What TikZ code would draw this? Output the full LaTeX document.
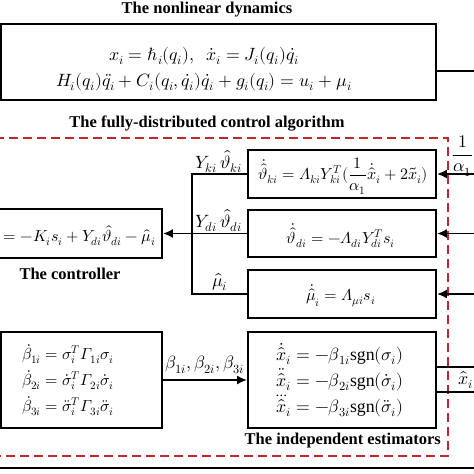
\documentclass[tikz,border=0pt]{standalone}
\usepackage{amsmath}
\usepackage{fontspec}
\usepackage[math-style=ISO]{unicode-math}
\setmainfont{Liberation Serif}
\setmathfont{Latin Modern Math}
\usetikzlibrary{arrows.meta}
\definecolor{dashred}{RGB}{192,40,45}
\tikzset{
  blk/.style={draw, line width=1.9pt, inner sep=0pt},
  ttl/.style={font=\fontsize{16.5}{20}\selectfont\bfseries, inner sep=0pt},
  eq/.style={font=\fontsize{16}{20}\selectfont, inner sep=0pt},
  eqb/.style={font=\fontsize{17.8}{22}\selectfont, inner sep=0pt},
  conn/.style={line width=1.7pt},
  arr/.style={conn, -{Latex[length=10pt,width=9pt]}},
  reddash/.style={draw=dashred, line width=1.4pt, dash pattern=on 9pt off 5pt}
}
\begin{document}
\begin{tikzpicture}[x=1pt,y=-1pt]
\useasboundingbox (0,0) rectangle (474,474);
% titles
\node[ttl] (t1) at (207,10) {The nonlinear dynamics};
\node[ttl] (t2) at (207,124) {The fully-distributed control algorithm};
% top box
\node[blk, minimum width=435pt, minimum height=76pt] (dyn) at (218.5,62) {};
\node[eqb, align=center] (dyntxt) at (204,69) {$x_i = \hbar_i(q_i),\ \ \dot{x}_i = J_i(q_i)\dot{q}_i$\\[4pt]
$H_i(q_i)\ddot{q}_i + C_i(q_i,\dot{q}_i)\dot{q}_i + g_i(q_i) = u_i + \mu_i$};
\coordinate (dynout) at (480,71);
\draw[conn] (dynout) -- (dynout -| dyn.east);
% red dashed frame
\draw[reddash] (-5,138) -- (448,138) -- (448,456) -- (-5,456);
% adaptation boxes
\node[blk, minimum width=188pt, minimum height=48pt] (K) at (342,174) {};
\node[eq] (Ktxt) at (343,176) {$\dot{\hat{\vartheta}}_{ki} = \Lambda_{ki}Y_{ki}^{T}(\dfrac{1}{\alpha_1}\dot{\hat{x}}_i + 2\tilde{x}_i)$};
\node[blk, minimum width=188pt, minimum height=47pt] (D) at (342,233.5) {};
\node[eq] (Dtxt) at (341,236) {$\dot{\hat{\vartheta}}_{di} = -\Lambda_{di}Y_{di}^{T}s_i$};
\node[blk, minimum width=188pt, minimum height=48pt] (M) at (342,294) {};
\node[eq] (Mtxt) at (341,296) {$\dot{\hat{\mu}}_i = \Lambda_{\mu i}s_i$};
% controller
\node[blk, minimum width=192pt, minimum height=49pt] (C) at (66,233.5) {};
\node[eq, anchor=east] (Ctxt) at (156,236) {$= -K_i s_i + Y_{di}\hat{\vartheta}_{di} - \hat{\mu}_i$};
\node[ttl] (t3) at (70,274) {The controller};
% estimators
\node[blk, minimum width=161pt, minimum height=96pt] (B) at (81.5,380) {};
\node[eq] (Btxt) at (68,381) {$\begin{aligned}\dot{\beta}_{1i} &= \sigma_i^{T}\Gamma_{1i}\sigma_i\\[1pt]
\dot{\beta}_{2i} &= \dot{\sigma}_i^{T}\Gamma_{2i}\dot{\sigma}_i\\[1pt]
\dot{\beta}_{3i} &= \ddot{\sigma}_i^{T}\Gamma_{3i}\ddot{\sigma}_i\end{aligned}$};
\node[blk, minimum width=188pt, minimum height=96pt] (E) at (342,380) {};
\node[eqb] (Etxt) at (340,381) {$\begin{aligned}\dot{\hat{x}}_i &= -\beta_{1i}\mathrm{sgn}(\sigma_i)\\[-2pt]
\ddot{\hat{x}}_i &= -\beta_{2i}\mathrm{sgn}(\dot{\sigma}_i)\\[-2pt]
\dddot{\hat{x}}_i &= -\beta_{3i}\mathrm{sgn}(\ddot{\sigma}_i)\end{aligned}$};
\node[ttl, anchor=east] (t4) at (441,441) {The independent estimators};
% junction
\coordinate (jt) at (192,174);
\coordinate (jm) at (192,233.5);
\coordinate (jb) at (192,294);
\draw[conn] (K.west) -- (jt) -- (jb) -- (M.west);
\draw[conn] (D.west) -- (jm);
\draw[arr] (jm) -- (C.east);
\node[eqb] (lk) at (219,162) {$Y_{ki}\,\hat{\vartheta}_{ki}$};
\node[eqb] (ld) at (219,221) {$Y_{di}\,\hat{\vartheta}_{di}$};
\node[eqb] (lm) at (220,282) {$\hat{\mu}_i$};
% beta arrow
\draw[arr] (B.east) -- (E.west);
\node[eqb] (lb) at (205,365) {$\beta_{1i},\beta_{2i},\beta_{3i}$};
% incoming from right
\coordinate (ink) at (480,174);
\coordinate (ind) at (480,233.5);
\coordinate (inm) at (480,294);
\draw[arr] (ink) -- (K.east);
\draw[arr] (ind) -- (D.east);
\draw[arr] (inm) -- (M.east);
\node[eqb, anchor=west] (la) at (452,156) {$\dfrac{1}{\alpha_1}$};
% estimator outputs
\coordinate (o1) at (480,367);
\coordinate (o2) at (480,392);
\draw[conn] (o1 -| E.east) -- (o1);
\draw[conn] (o2 -| E.east) -- (o2);
\node[eqb, anchor=west] (lx) at (458,380) {$\hat{x}_i$};
% bottom line
\coordinate (bl) at (-5,468);
\coordinate (br) at (480,468);
\draw[conn] (bl) -- (br);
\end{tikzpicture}
\end{document}
